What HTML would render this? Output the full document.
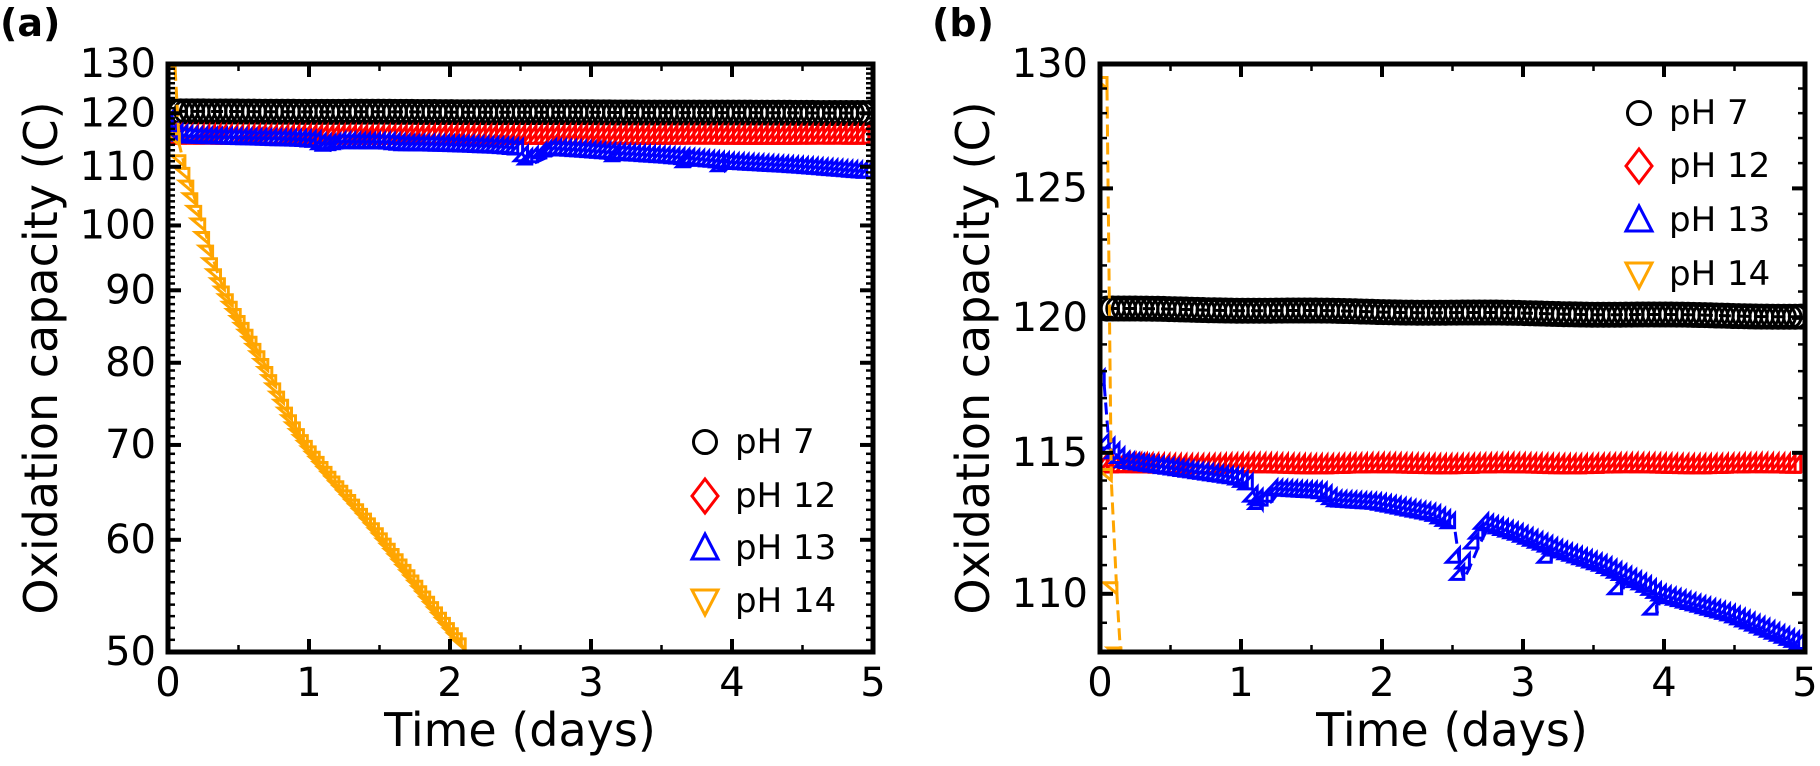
<!DOCTYPE html>
<html><head><meta charset="utf-8"><style>
html,body{margin:0;padding:0;background:#fff;overflow:hidden;width:1820px;height:766px;}
svg{display:block;}
text{font-family:"DejaVu Sans","Liberation Sans",sans-serif;fill:#000;}
</style></head><body>
<svg id="s" width="1820" height="766" viewBox="0 0 1820 766" xmlns="http://www.w3.org/2000/svg"></svg>
<script>
const S=document.getElementById('s');
let out='';
const T=64,B=652;
function mk(x0,ymax,ymin){const x1=x0+705;return{x0,x1,X:d=>x0+d/5*705,Y:v=>T+Math.log(ymax/v)/Math.log(ymax/ymin)*(B-T)};}
function lerp(pts,x){for(let i=0;i<pts.length-1;i++){if(x<=pts[i+1][0]){const t=(x-pts[i][0])/(pts[i+1][0]-pts[i][0]);return pts[i][1]+t*(pts[i+1][1]-pts[i][1]);}}return pts[pts.length-1][1];}
function cr(pts,x){
 let i=0;while(i<pts.length-2&&x>pts[i+1][0])i++;
 const p0=pts[Math.max(i-1,0)],p1=pts[i],p2=pts[i+1],p3=pts[Math.min(i+2,pts.length-1)];
 const t=(x-p1[0])/(p2[0]-p1[0]);
 const m1=(p2[1]-p0[1])/(p2[0]-p0[0])*(p2[0]-p1[0]),m2=(p3[1]-p1[1])/(p3[0]-p1[0])*(p2[0]-p1[0]);
 const t2=t*t,t3=t2*t;
 return (2*t3-3*t2+1)*p1[1]+(t3-2*t2+t)*m1+(-2*t3+3*t2)*p2[1]+(t3-t2)*m2;
}
function marker(type,x,y,c){
 if(type==='o')return `<circle cx="${x}" cy="${y}" r="11.5" fill="none" stroke="${c}" stroke-width="3"/>`;
 if(type==='d')return `<polygon points="${x},${y-17} ${x+13},${y} ${x},${y+17} ${x-13},${y}" fill="none" stroke="${c}" stroke-width="3"/>`;
 if(type==='^')return `<polygon points="${x},${y-14} ${x+13},${y+11} ${x-13},${y+11}" fill="none" stroke="${c}" stroke-width="3"/>`;
 if(type==='v')return `<polygon points="${x},${y+14} ${x+13},${y-11} ${x-13},${y-11}" fill="none" stroke="${c}" stroke-width="3"/>`;
}
const black=[],red=[],blue=[],orange=[];
for(let d=0.05;d<=5.0;d+=0.04){black.push([d,120.35-0.3*d/5+0.02*Math.sin(d*5)]);}
for(let d=0.05;d<=5.0;d+=0.04){red.push([d,114.3+0.02*Math.sin(d*7)]);}
const bp=[[0.03,117.5],[0.06,115.2],[0.2,114.5],[1.0,113.9],[1.08,113.7],[1.12,113.2],[1.2,113.1],[1.25,113.5],[1.6,113.4],[1.7,113.1],[2.0,113.0],[2.4,112.6],[2.52,112.3]];
for(let d=0.03;d<=2.52;d+=0.035)blue.push([d,lerp(bp,d)]);
blue.push([2.55,111.1],[2.58,110.5],[2.62,110.9]);
const bp2=[[2.68,111.6],[2.75,112.3],[3.0,111.9],[3.3,111.3],[3.6,110.8],[3.9,110.1],[4.0,109.8],[4.5,109.1],[5.0,108.1]];
for(let d=2.68;d<=5.0;d+=0.035)blue.push([d,lerp(bp2,d)]);
blue.push([3.7,110.0],[3.95,109.3],[3.2,111.1],[1.15,113.0]);
blue.sort((a,b)=>a[0]-b[0]);
orange.push([0.05,129],[0.08,114]);
const op=[[0.12,110],[0.25,100],[0.38,91],[0.68,80],[0.98,70],[1.52,60],[2.12,50],[2.4,46.5]].map(p=>[p[0],Math.log(p[1])]);
for(let d=0.12;d<=2.3;d+=0.028){orange.push([d,Math.exp(cr(op,d))]);}

function panel(P,ymax,ymin,majors,label,lx,leg){
 const clip='c'+lx;
 out+=`<defs><clipPath id="${clip}"><rect x="${P.x0}" y="${T}" width="705" height="${B-T}"/></clipPath></defs>`;
 out+=`<g clip-path="url(#${clip})">`;
 const series=[[black,'o','#000'],[red,'d','#f00'],[blue,'^','#00f'],[orange,'v','#ffa500']];
 for(const [data,m,c] of series){
  let pts=data.filter(p=>p[1]>ymin*0.9).map(p=>`${P.X(p[0]).toFixed(1)},${P.Y(p[1]).toFixed(1)}`).join(' ');
  out+=`<polyline points="${pts}" fill="none" stroke="${c}" stroke-width="3" stroke-dasharray="12,6"/>`;
  for(const p of data){if(p[1]<ymin*0.997)continue;out+=marker(m,P.X(p[0]).toFixed(1),P.Y(p[1]).toFixed(1),c);}
 }
 out+='</g>';
 for(let v=Math.ceil(ymin);v<=ymax;v+=1){const y=P.Y(v);
  const maj=majors.includes(v);const L=maj?13:7;
  out+=`<line x1="${P.x0}" x2="${P.x0+L}" y1="${y}" y2="${y}" stroke="#000" stroke-width="${maj?4:2.5}"/>`;
  out+=`<line x1="${P.x1}" x2="${P.x1-L}" y1="${y}" y2="${y}" stroke="#000" stroke-width="${maj?4:2.5}"/>`;}
 for(const v of majors){out+=`<text x="${P.x0-12}" y="${P.Y(v)}" font-size="40" text-anchor="end" dominant-baseline="central">${v}</text>`;}
 for(let d=0;d<=5;d+=0.5){const x=P.X(d);const maj=d%1===0;const L=maj?13:7;
  out+=`<line x1="${x}" x2="${x}" y1="${B}" y2="${B-L}" stroke="#000" stroke-width="${maj?4:2.5}"/>`;
  out+=`<line x1="${x}" x2="${x}" y1="${T}" y2="${T+L}" stroke="#000" stroke-width="${maj?4:2.5}"/>`;
  if(maj)out+=`<text x="${x}" y="696" font-size="40" text-anchor="middle">${d}</text>`;}
 out+=`<rect x="${P.x0}" y="${T}" width="705" height="${B-T}" fill="none" stroke="#000" stroke-width="5"/>`;
 out+=`<text x="${P.x0+352}" y="746" font-size="46" text-anchor="middle">Time (days)</text>`;
 const cx=lx+41;out+=`<text x="${cx}" y="${(T+B)/2}" font-size="46" text-anchor="middle" dominant-baseline="central" transform="rotate(-90 ${cx} ${(T+B)/2})">Oxidation capacity (C)</text>`;
 out+=`<text x="${lx}" y="36" font-size="38" font-weight="bold">${label}</text>`;
 const names=['pH 7','pH 12','pH 13','pH 14'],ms=['o','d','^','v'],cs=['#000','#f00','#00f','#ffa500'];
 for(let i=0;i<4;i++){out+=marker(ms[i],leg[0],leg[1][i],cs[i]);out+=`<text x="${leg[0]+30}" y="${leg[1][i]}" font-size="34" dominant-baseline="central">${names[i]}</text>`;}
}
const A=mk(168,130,50),Bp=mk(1100,130,108);
panel(A,130,50,[50,60,70,80,90,100,110,120,130],'(a)',0,[705,[442,496,548,601]]);
panel(Bp,130,108,[110,115,120,125,130],'(b)',932,[1639,[113,166,220,274]]);
S.innerHTML=out;
</script>
</body></html>
